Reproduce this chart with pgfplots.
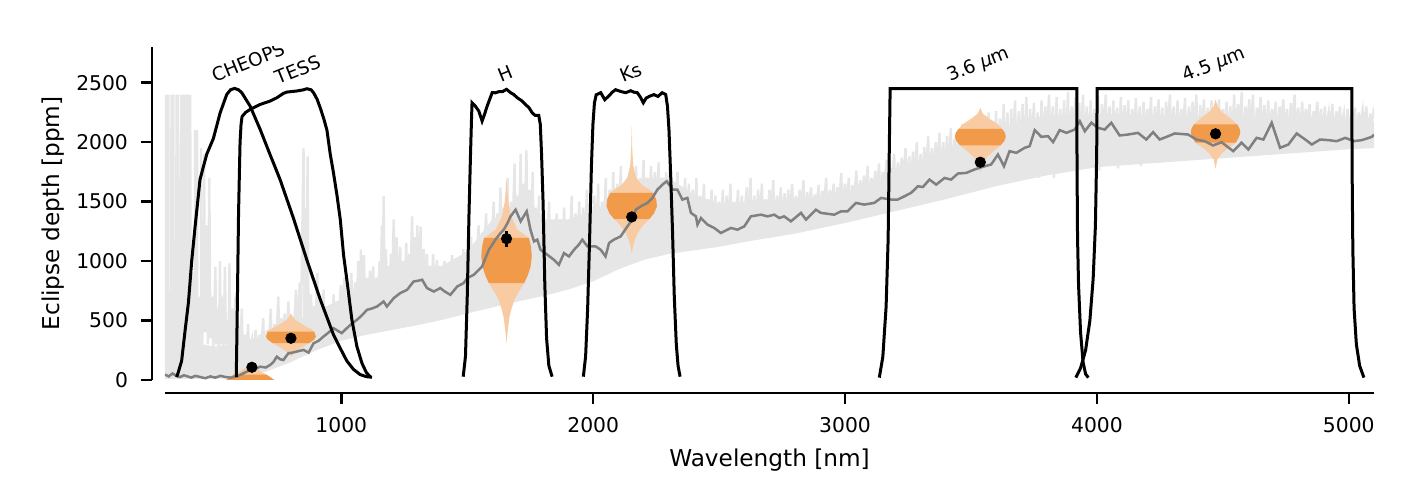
\documentclass[border=0pt]{standalone}
\usepackage{fontspec}
\setmainfont{DejaVu Sans}
\usepackage{pgfplots}
\pgfplotsset{compat=1.18}

\definecolor{specgray}{HTML}{E6E6E6}
\definecolor{bingray}{HTML}{808080}
\definecolor{vdark}{HTML}{F19A49}
\definecolor{vlight}{HTML}{F8CBA3}

\begin{document}
\begin{tikzpicture}
\begin{axis}[
  name=ax,
  at={(0,0)}, anchor=south west,
  scale only axis,
  width=604.5pt, height=166.5pt,
  xmin=300, xmax=5100, ymin=0, ymax=2800,
  axis x line*=bottom, axis y line*=left,
  axis x line shift=6.5pt, axis y line shift=6.5pt,
  axis line style={line width=1.25pt, -},
  tick align=outside,
  major tick length=5.5pt,
  every tick/.style={black, line width=1.25pt},
  xtick={1000,2000,3000,4000,5000},
  ytick={0,500,1000,1500,2000,2500},
  minor tick num=0,
  scaled ticks=false,
  xticklabel shift=3pt,
  yticklabel shift=3pt,
  /pgf/number format/assume math mode=true,
  /pgf/number format/1000 sep={},
  tick label style={font=\fontsize{10.15}{12}\selectfont},
  label style={font=\fontsize{11.6}{14}\selectfont},
  xlabel={Wavelength [nm]},
  ylabel={Eclipse depth [ppm]},
  xlabel shift=1.5pt,
  ylabel shift=-1pt,
  clip=true,
]

% noisy high-resolution spectrum: envelope band
\addplot[fill=specgray, draw=none] coordinates {
(300,2400)(318,2400)(319,500)(320,500)(321,2400)(338,2400)(339,700)(340,700)(341,2400)
(356,2400)(357,1700)(359,1700)(360,2400)(405,2400)(406,900)(414,900)(415,2100)(432,2100)
(433,700)(438,700)(439,1950)(447,1950)(448,300)(500,280)(600,320)(700,380)(800,480)
(900,580)(1000,680)(1100,780)(1200,870)(1300,950)(1400,960)(1500,1080)(1600,1350)
(1700,1450)(1800,1350)(1900,1350)(2000,1420)(2100,1550)(2200,1700)(2300,1700)(2400,1560)
(2500,1480)(2600,1500)(2800,1520)(3000,1560)(3200,1750)(3400,1950)(3600,2100)(3800,2230)
(4000,2240)(4200,2230)(4400,2220)(4600,2200)(4800,2180)(5000,2170)(5100,2170)
(5100,1950)(5000,1940)(4800,1910)(4600,1880)(4400,1850)(4200,1820)(4000,1790)(3800,1720)
(3600,1630)(3400,1520)(3200,1420)(3000,1320)(2800,1230)(2600,1160)(2500,1120)(2400,1090)
(2300,1060)(2200,1010)(2100,930)(2000,830)(1900,760)(1800,705)(1700,660)(1600,610)
(1500,560)(1400,505)(1300,460)(1200,420)(1100,380)(1000,330)(900,250)(800,150)(700,70)
(600,20)(500,10)(300,10)
} --cycle;

% noisy high-resolution spectrum: individual spikes
\addplot[specgray, line width=1.2pt] coordinates {
(448,300)(455,1900)(459,400)(466,1300)(470,300)(476,1700)(480,350)(488,700)(492,250)
(500,950)(504,300)(510,600)(514,200)(518,1000)(522,300)(528,700)(532,250)(538,950)(542,300)
(548,500)(552,200)(556,980)(560,250)(568,600)(572,200)(580,700)(584,250)(592,450)(596,150)
(605,600)(609,200)(618,380)(622,150)(630,470)(634,200)(645,330)(649,150)(660,420)(664,200)
(675,380)(679,150)(690,520)(694,200)(705,420)(709,200)(720,600)(724,250)(735,470)(739,200)
(750,700)(754,250)(762,520)(766,250)(775,560)(779,250)(790,660)(794,300)(805,520)(809,300)
(820,760)(824,300)(835,820)(839,350)(850,1950)(854,350)(858,1450)(862,350)(866,1880)(870,400)
(880,720)(884,350)(892,620)(896,350)(905,900)(909,400)(918,660)(922,400)(930,760)(934,400)
(945,620)(949,420)(958,580)(962,420)(970,720)(974,450)(985,660)(989,450)(998,800)(1002,480)
(1012,860)(1016,500)(1025,720)(1029,500)(1040,900)(1044,520)(1055,820)(1059,550)
(1068,1000)(1072,560)(1078,1095)(1082,560)(1090,1050)(1094,580)(1102,860)(1106,600)
(1114,920)(1118,620)(1127,955)(1131,620)(1140,860)(1144,640)(1152,1000)(1156,650)
(1161,1300)(1164,650)(1168,1545)(1172,660)(1177,1100)(1181,660)(1187,960)(1191,680)
(1197,1060)(1201,700)(1208,1350)(1212,700)(1220,1200)(1224,720)(1234,1120)(1238,730)
(1246,1000)(1250,740)(1258,1150)(1262,750)(1270,1060)(1274,770)(1281,1375)(1285,780)
(1292,1200)(1296,790)(1302,1300)(1306,800)(1315,1290)(1319,800)(1327,1100)(1331,780)
(1340,1060)(1344,760)(1352,960)(1356,740)(1365,1060)(1369,740)(1380,1011)(1384,750)
(1392,920)(1396,760)(1410,1000)(1414,740)(1425,960)(1429,720)(1440,1050)(1444,740)
(1455,1000)(1459,760)(1470,960)(1474,780)(1485,1100)(1489,800)(1500,1050)(1504,820)
(1515,1200)(1519,850)(1530,1150)(1534,880)(1545,1300)(1549,900)(1560,1200)(1564,950)
(1575,1400)(1579,1000)(1590,1250)(1594,1050)(1605,1500)(1609,1100)(1620,1400)(1624,1100)
(1632,1620)(1636,1150)(1645,1450)(1649,1150)(1660,1700)(1664,1200)(1675,1500)(1679,1200)
(1688,1820)(1692,1250)(1700,1550)(1704,1200)(1712,1900)(1716,1200)(1722,1650)(1726,1150)
(1735,1930)(1739,1150)(1748,1600)(1752,1100)(1760,1750)(1764,1050)(1772,1450)(1776,1000)
(1785,1550)(1789,1000)(1798,1400)(1802,950)(1812,1350)(1816,950)(1825,1500)(1829,950)
(1840,1300)(1844,930)(1855,1400)(1859,930)(1870,1350)(1874,950)(1885,1450)(1889,950)
(1900,1300)(1904,970)(1915,1550)(1919,1000)(1930,1400)(1934,1000)(1945,1500)(1949,1020)
(1960,1450)(1964,1040)(1975,1600)(1979,1060)(1990,1500)(1994,1060)(2005,1550)(2009,1060)
(2020,1650)(2024,1080)(2035,1500)(2039,1100)(2050,1700)(2054,1120)(2065,1600)(2069,1140)
(2080,1750)(2084,1160)(2095,1650)(2099,1180)(2110,1800)(2114,1200)(2125,1650)(2129,1230)
(2140,1700)(2144,1250)(2155,1600)(2159,1280)(2170,1800)(2174,1300)(2185,1700)(2189,1320)
(2200,1850)(2204,1350)(2215,1700)(2219,1360)(2230,1800)(2234,1380)(2245,1750)(2249,1380)
(2260,1830)(2264,1380)(2275,1700)(2279,1380)(2290,1750)(2294,1360)(2305,1800)(2309,1340)
(2320,1650)(2324,1320)(2335,1750)(2339,1300)(2350,1600)(2354,1280)(2365,1700)(2369,1260)
(2380,1650)(2384,1250)(2395,1600)(2399,1240)(2410,1700)(2414,1230)(2425,1550)(2429,1220)
(2440,1650)(2444,1220)(2455,1520)(2459,1210)(2470,1600)(2474,1210)(2485,1550)(2489,1200)
(2500,1500)(2504,1200)(2515,1600)(2519,1210)(2530,1550)(2534,1220)(2545,1650)(2549,1220)
(2560,1500)(2564,1230)(2575,1600)(2579,1240)(2590,1550)(2594,1250)(2610,1620)(2614,1260)
(2625,1700)(2629,1270)(2640,1550)(2644,1280)(2655,1600)(2659,1290)(2670,1650)(2674,1300)
(2685,1520)(2689,1300)(2700,1600)(2704,1310)(2715,1680)(2719,1320)(2730,1550)(2734,1320)
(2745,1620)(2749,1330)(2760,1570)(2764,1330)(2775,1600)(2779,1340)(2790,1650)(2794,1350)
(2805,1550)(2809,1350)(2820,1600)(2824,1360)(2835,1680)(2839,1370)(2850,1580)(2854,1380)
(2865,1620)(2869,1380)(2880,1560)(2884,1390)(2895,1640)(2899,1400)(2910,1590)(2914,1400)
(2925,1700)(2929,1410)(2940,1600)(2944,1420)(2955,1650)(2959,1420)(2970,1620)(2974,1430)
(2985,1740)(2989,1440)(3000,1650)(3004,1450)(3015,1700)(3019,1460)(3030,1640)(3034,1470)
(3045,1760)(3049,1480)(3060,1680)(3064,1490)(3075,1720)(3079,1500)(3090,1800)(3094,1510)
(3105,1700)(3109,1520)(3120,1760)(3124,1530)(3135,1820)(3139,1540)(3150,1750)(3154,1550)
(3165,1850)(3169,1560)(3180,1780)(3184,1570)(3195,1900)(3199,1580)(3210,1830)(3214,1590)
(3225,1870)(3229,1600)(3240,1950)(3244,1610)(3255,1880)(3259,1620)(3270,1920)(3274,1630)
(3285,2000)(3289,1640)(3300,1900)(3304,1650)(3315,1960)(3319,1660)(3330,2050)(3334,1670)
(3345,1950)(3349,1680)(3360,2000)(3364,1690)(3375,2080)(3379,1700)(3390,2000)(3394,1710)
(3405,2050)(3409,1720)(3420,2120)(3424,1730)(3435,2030)(3439,1740)(3450,2100)(3454,1750)
(3465,2150)(3469,1760)(3480,2060)(3484,1770)(3495,2120)(3499,1780)(3510,2180)(3514,1790)
(3525,2100)(3529,1650)(3540,2200)(3544,1800)(3555,2140)(3559,1810)(3570,2250)(3574,1820)
(3585,2180)(3589,1830)(3600,2260)(3604,1700)(3615,2200)(3619,1850)(3630,2320)(3634,1860)
(3645,2250)(3649,1680)(3660,2280)(3664,1880)(3675,2350)(3679,1890)(3690,2260)(3694,1900)
(3705,2320)(3709,1750)(3720,2380)(3724,1920)(3735,2280)(3739,1930)(3750,2330)(3754,1940)
(3765,2250)(3769,1700)(3780,2350)(3784,1950)(3795,2300)(3799,1960)(3810,2400)(3814,1950)
(3825,2300)(3829,1700)(3840,2380)(3844,1960)(3855,2280)(3859,1960)(3870,2350)(3874,1750)
(3885,2420)(3889,1970)(3900,2300)(3904,1970)(3915,2380)(3919,1720)(3930,2330)(3934,1980)
(3945,2400)(3949,1980)(3960,2300)(3964,1780)(3975,2350)(3979,1990)(3990,2280)(3994,1990)
(4005,2380)(4009,1760)(4020,2320)(4024,2000)(4035,2400)(4039,2000)(4050,2300)(4054,1800)
(4065,2350)(4069,2000)(4080,2290)(4084,1780)(4095,2380)(4099,2000)(4110,2310)(4114,2000)
(4125,2350)(4129,1820)(4140,2280)(4144,2010)(4155,2370)(4159,2010)(4170,2300)(4174,1800)
(4185,2340)(4189,2020)(4200,2280)(4204,2020)(4215,2380)(4219,1850)(4230,2300)(4234,2020)
(4245,2360)(4249,2030)(4260,2290)(4264,1830)(4275,2340)(4279,2030)(4290,2400)(4294,2030)
(4305,2300)(4309,1860)(4320,2350)(4324,2040)(4335,2280)(4339,2040)(4350,2370)(4354,1870)
(4365,2300)(4369,2040)(4380,2340)(4384,2050)(4395,2400)(4399,1880)(4410,2310)(4414,2050)
(4425,2360)(4429,2050)(4440,2290)(4444,1900)(4455,2350)(4459,2050)(4470,2300)(4474,2060)
(4485,2360)(4489,1900)(4500,2280)(4504,2060)(4515,2340)(4519,2060)(4530,2300)(4534,1920)
(4545,2400)(4549,2070)(4560,2320)(4564,2070)(4575,2420)(4579,1920)(4590,2300)(4594,2070)
(4605,2360)(4609,2080)(4620,2400)(4624,1940)(4635,2290)(4639,2080)(4650,2380)(4654,2080)
(4665,2310)(4669,1950)(4680,2350)(4684,2090)(4695,2280)(4699,2090)(4710,2340)(4714,1960)
(4725,2300)(4729,2090)(4740,2360)(4744,2100)(4755,2280)(4759,1970)(4770,2330)(4774,2100)
(4785,2400)(4789,2100)(4800,2290)(4804,1980)(4815,2340)(4819,2100)(4830,2280)(4834,2110)
(4845,2320)(4849,1990)(4860,2260)(4864,2110)(4875,2340)(4879,2110)(4890,2280)(4894,2000)
(4905,2300)(4909,2110)(4920,2250)(4924,2120)(4935,2320)(4939,2010)(4950,2260)(4954,2120)
(4965,2300)(4969,2120)(4980,2240)(4984,2020)(4995,2280)(4999,2120)(5010,2230)(5014,2120)
(5025,2290)(5029,2030)(5040,2250)(5044,2120)(5055,2270)(5059,2120)(5070,2300)(5074,2040)
(5085,2240)(5089,2120)(5100,2290)
};

% posterior violins: full distribution
\addplot[fill=vlight, draw=none] coordinates {
(638,126)(623,105)(603,80)(573,45)(542,0)(538,-60)(578,-150)(638,-250)(698,-150)(738,-60)
(734,0)(703,45)(673,80)(653,105)} --cycle;
\addplot[fill=vlight, draw=none] coordinates {
(800,562)(795,540)(785,510)(765,480)(740,450)(722,430)(708,407)(701,365)(708,340)(728,309)
(745,290)(768,260)(786,230)(795,210)(800,196)(805,210)(814,230)(832,260)(855,290)(872,309)
(892,340)(899,365)(892,407)(878,430)(860,450)(835,480)(815,510)(805,540)} --cycle;
\addplot[fill=vlight, draw=none] coordinates {
(1656,1685)(1653,1600)(1649,1500)(1638,1376)(1621,1300)(1613,1264)(1591,1230)(1567,1194)
(1559,1120)(1556,1039)(1561,950)(1572,880)(1586,815)(1608,740)(1625,674)(1636,600)
(1644,533)(1651,420)(1656,309)(1661,420)(1668,533)(1676,600)(1687,674)(1704,740)(1726,815)
(1740,880)(1751,950)(1756,1039)(1753,1120)(1745,1194)(1721,1230)(1699,1264)(1691,1300)
(1674,1376)(1663,1500)(1659,1600)} --cycle;
\addplot[fill=vlight, draw=none] coordinates {
(2153,2134)(2151,1950)(2147,1800)(2135,1700)(2113,1640)(2083,1600)(2068,1573)(2056,1520)
(2053,1460)(2065,1400)(2083,1354)(2108,1300)(2128,1240)(2141,1180)(2148,1120)(2153,1067)
(2158,1120)(2165,1180)(2178,1240)(2198,1300)(2223,1354)(2241,1400)(2253,1460)(2250,1520)
(2238,1573)(2223,1600)(2193,1640)(2171,1700)(2159,1800)(2155,1950)} --cycle;
\addplot[fill=vlight, draw=none] coordinates {
(3537,2289)(3527,2240)(3497,2191)(3467,2150)(3451,2112)(3440,2080)(3436,2045)(3442,2010)
(3457,1972)(3482,1930)(3508,1882)(3525,1830)(3532,1798)(3537,1742)(3542,1798)(3549,1830)
(3566,1882)(3592,1930)(3617,1972)(3632,2010)(3638,2045)(3634,2080)(3623,2112)(3607,2150)
(3577,2191)(3547,2240)} --cycle;
\addplot[fill=vlight, draw=none] coordinates {
(4471,2359)(4463,2300)(4442,2247)(4411,2200)(4385,2149)(4375,2110)(4373,2079)(4379,2040)
(4391,1995)(4421,1950)(4444,1910)(4464,1854)(4471,1775)(4478,1854)(4498,1910)(4521,1950)
(4551,1995)(4563,2040)(4569,2079)(4567,2110)(4557,2149)(4531,2200)(4500,2247)(4479,2300)} --cycle;

% posterior violins: central interval
\addplot[fill=vdark, draw=none] coordinates {
(573,45)(542,0)(538,-60)(560,-100)(716,-100)(738,-60)(734,0)(703,45)} --cycle;
\addplot[fill=vdark, draw=none] coordinates {
(708,407)(701,365)(708,340)(728,309)(872,309)(892,340)(899,365)(892,407)} --cycle;
\addplot[fill=vdark, draw=none] coordinates {
(1567,1194)(1559,1120)(1556,1039)(1561,950)(1572,880)(1586,815)(1726,815)(1740,880)
(1751,950)(1756,1039)(1753,1120)(1745,1194)} --cycle;
\addplot[fill=vdark, draw=none] coordinates {
(2068,1573)(2056,1520)(2053,1460)(2065,1400)(2083,1354)(2223,1354)(2241,1400)(2253,1460)
(2250,1520)(2238,1573)} --cycle;
\addplot[fill=vdark, draw=none] coordinates {
(3451,2112)(3440,2080)(3436,2045)(3442,2010)(3457,1972)(3617,1972)(3632,2010)(3638,2045)
(3634,2080)(3623,2112)} --cycle;
\addplot[fill=vdark, draw=none] coordinates {
(4385,2149)(4375,2110)(4373,2079)(4379,2040)(4391,1995)(4551,1995)(4563,2040)(4569,2079)
(4567,2110)(4557,2149)} --cycle;

% binned model spectrum
\addplot[bingray, line width=1.25pt] coordinates {
(300,45)(315,30)(330,55)(345,35)(360,25)(375,40)(390,30)(405,20)(420,35)(440,25)(460,15)
(480,30)(500,20)(520,35)(540,25)(560,20)(586,30)(610,55)(638,84)(660,95)(678,112)(700,105)
(717,126)(730,150)(744,196)(757,175)(770,168)(790,225)(806,230)(823,239)(850,253)(870,230)
(890,309)(910,330)(929,365)(950,400)(969,436)(985,415)(1002,394)(1022,436)(1040,470)
(1062,506)(1080,540)(1102,590)(1120,600)(1142,618)(1168,660)(1181,618)(1208,688)(1234,731)
(1261,758)(1287,828)(1305,835)(1321,843)(1340,773)(1367,744)(1393,773)(1410,745)(1433,716)
(1460,786)(1486,815)(1500,857)(1526,885)(1559,955)(1586,1095)(1612,1180)(1630,1230)
(1645,1264)(1660,1320)(1672,1376)(1692,1432)(1712,1334)(1736,1418)(1751,1264)(1765,1165)
(1778,1180)(1791,1095)(1818,1053)(1844,1011)(1864,969)(1884,1067)(1904,1039)(1924,1095)
(1943,1138)(1957,1180)(1977,1123)(2010,1123)(2030,1095)(2049,1039)(2063,1152)(2082,1180)
(2109,1207)(2136,1292)(2155,1348)(2169,1432)(2189,1460)(2215,1489)(2235,1531)(2255,1601)
(2275,1643)(2292,1671)(2315,1601)(2334,1601)(2354,1517)(2374,1531)(2388,1405)(2408,1376)
(2414,1306)(2428,1362)(2454,1306)(2481,1278)(2507,1236)(2533,1264)(2547,1278)(2573,1264)
(2600,1292)(2626,1376)(2666,1390)(2692,1376)(2719,1390)(2739,1362)(2758,1376)(2785,1334)
(2825,1405)(2845,1348)(2884,1432)(2904,1405)(2957,1390)(2984,1418)(3010,1418)(3043,1489)
(3076,1475)(3116,1489)(3143,1531)(3183,1517)(3209,1517)(3236,1545)(3262,1573)(3289,1629)
(3309,1623)(3335,1685)(3362,1643)(3395,1699)(3421,1685)(3448,1736)(3481,1741)(3514,1770)
(3554,1797)(3580,1812)(3607,1896)(3631,1797)(3653,1924)(3680,1910)(3713,1952)(3733,1966)
(3753,2101)(3779,2045)(3806,2050)(3826,2000)(3852,2101)(3879,2078)(3912,2106)(3932,2176)
(3952,2092)(3978,2163)(4004,2120)(4031,2106)(4057,2163)(4090,2056)(4124,2064)(4163,2078)
(4196,2022)(4223,2084)(4249,2022)(4283,2050)(4309,2073)(4362,2064)(4395,2022)(4428,2008)
(4461,1972)(4495,1999)(4541,1924)(4574,1995)(4601,1938)(4634,2036)(4661,2022)(4694,2163)
(4727,1952)(4760,1980)(4793,2073)(4827,2022)(4853,1980)(4886,2022)(4919,2017)(4952,2008)
(4986,2036)(5019,2008)(5052,2017)(5092,2045)(5100,2064)
};

% filter transmission curves
\addplot[black, line width=1.5pt] coordinates {% CHEOPS
(346,25)(352,60)(366,160)(380,420)(393,650)(406,1000)(420,1300)(439,1685)(452,1790)
(466,1900)(492,2030)(519,2247)(545,2400)(560,2440)(576,2452)(592,2440)(605,2415)(638,2303)
(678,2106)(717,1896)(757,1685)(810,1360)(863,1011)(916,680)(969,380)(1000,250)(1022,160)
(1048,90)(1075,45)(1100,28)(1122,23)};
\addplot[black, line width=1.5pt] coordinates {% TESS
(583,25)(587,600)(592,1400)(598,2000)(602,2150)(606,2215)(620,2250)(638,2275)(678,2317)
(717,2345)(744,2373)(770,2410)(784,2421)(823,2430)(850,2440)(863,2449)(880,2440)(890,2415)
(904,2360)(916,2290)(930,2200)(943,2100)(956,1900)(969,1741)(983,1550)(996,1348)(1009,1050)
(1022,843)(1042,506)(1062,281)(1082,141)(1100,60)(1115,28)};
\addplot[black, line width=1.5pt] coordinates {% H
(1484,28)(1493,200)(1500,700)(1507,1400)(1513,1900)(1517,2200)(1519,2331)(1532,2303)
(1546,2261)(1559,2177)(1568,2230)(1579,2303)(1599,2416)(1612,2415)(1625,2424)(1640,2425)
(1656,2444)(1672,2416)(1685,2400)(1698,2374)(1715,2350)(1731,2317)(1745,2290)(1758,2246)
(1770,2224)(1784,2224)(1790,2150)(1795,1900)(1801,1500)(1808,800)(1815,350)(1824,120)(1837,28)};
\addplot[black, line width=1.5pt] coordinates {% Ks
(1961,28)(1970,200)(1978,600)(1986,1200)(1993,1800)(1999,2150)(2005,2330)(2012,2398)
(2030,2416)(2046,2357)(2063,2390)(2076,2420)(2089,2441)(2109,2426)(2129,2416)(2149,2432)
(2162,2420)(2175,2416)(2187,2380)(2199,2331)(2210,2370)(2222,2384)(2241,2400)(2257,2384)
(2274,2416)(2288,2400)(2295,2300)(2301,2100)(2308,1700)(2315,1250)(2322,700)(2330,300)
(2337,120)(2345,28)};
\addplot[black, line width=1.5pt] coordinates {% IRAC 3.6
(3136,20)(3150,196)(3163,617)(3171,1179)(3176,2000)(3179,2450)(3920,2450)(3921,1800)
(3923,1200)(3927,800)(3935,400)(3945,150)(3955,50)(3966,20)};
\addplot[black, line width=1.5pt] coordinates {% IRAC 4.5
(3916,20)(3935,100)(3955,250)(3972,500)(3985,850)(3994,1300)(3999,1900)(4001,2450)
(5012,2450)(5013,1800)(5016,1100)(5021,600)(5030,300)(5043,120)(5060,20)};

% measured eclipse depths
\addplot[black, only marks, mark=*, mark size=2.6pt,
  error bars/.cd, y dir=both, y explicit, error mark=none,
  error bar style={line width=1.5pt}] coordinates {
(645,107) +- (0,15)
(800,351) +- (0,40)
(1656,1188) +- (0,68)
(2153,1371) +- (0,35)
(3537,1831) +- (0,15)
(4471,2070) +- (0,15)
};

% band names
\begin{scope}[font=\fontsize{9.3}{11}\selectfont]
\node[rotate=22, inner sep=0pt] at (axis cs:632,2672) {CHEOPS};
\node[rotate=22, inner sep=0pt] at (axis cs:828,2608) {TESS};
\node[rotate=22, inner sep=0pt] at (axis cs:1652,2573) {H};
\node[rotate=22, inner sep=0pt] at (axis cs:2149,2585) {Ks};
\node[rotate=22, inner sep=0pt] at (axis cs:3530,2648) {3.6 {\itshape μ}m};
\node[rotate=22, inner sep=0pt] at (axis cs:4466,2648) {4.5 {\itshape μ}m};
\end{scope}
\end{axis}
\pgfresetboundingbox
\useasboundingbox (-82.5pt,-61pt) rectangle (630.5pt,190pt);
\end{tikzpicture}
\end{document}
